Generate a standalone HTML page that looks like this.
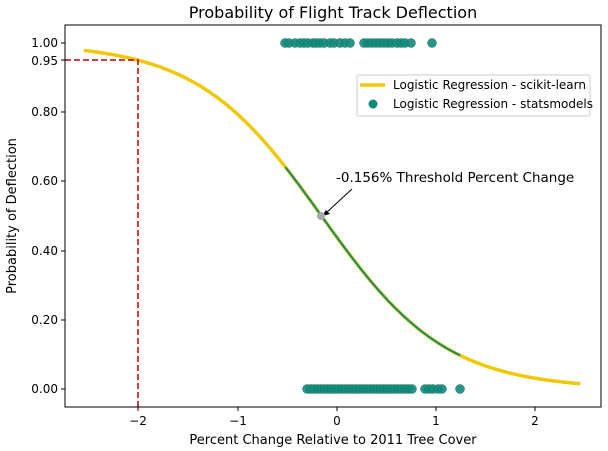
<!DOCTYPE html>
<html><head><meta charset="utf-8"><style>
body{margin:0;background:#fff}
svg{display:block;font-family:"DejaVu Sans","Liberation Sans",sans-serif}
</style></head><body>
<svg id="s" width="608" height="451" viewBox="0 0 608 451" xmlns="http://www.w3.org/2000/svg">
<rect width="608" height="451" fill="#fff"/>
<text x="333" y="18" font-size="16" text-anchor="middle">Probability of Flight Track Deflection</text>
<g id="plot"></g>
<polyline points="65,60 138,60 138,407" fill="none" stroke="#c00000" stroke-width="1.5" stroke-dasharray="6,3"/>
<rect x="65" y="25" width="536" height="382" fill="none" stroke="#000" stroke-width="1"/>
<g font-size="12" text-anchor="end">
<line x1="61" y1="43" x2="65" y2="43" stroke="#000"/><text x="58" y="47">1.00</text>
<line x1="61" y1="60" x2="65" y2="60" stroke="#000"/><text x="58" y="65">0.95</text>
<line x1="61" y1="112" x2="65" y2="112" stroke="#000"/><text x="58" y="116">0.80</text>
<line x1="61" y1="181" x2="65" y2="181" stroke="#000"/><text x="58" y="185">0.60</text>
<line x1="61" y1="251" x2="65" y2="251" stroke="#000"/><text x="58" y="255">0.40</text>
<line x1="61" y1="320" x2="65" y2="320" stroke="#000"/><text x="58" y="324">0.20</text>
<line x1="61" y1="389" x2="65" y2="389" stroke="#000"/><text x="58" y="393">0.00</text>
</g>
<g font-size="12" text-anchor="middle">
<line x1="138" y1="407" x2="138" y2="411" stroke="#000"/><text x="138" y="425">−2</text>
<line x1="238" y1="407" x2="238" y2="411" stroke="#000"/><text x="238" y="425">−1</text>
<line x1="337" y1="407" x2="337" y2="411" stroke="#000"/><text x="337" y="425">0</text>
<line x1="436" y1="407" x2="436" y2="411" stroke="#000"/><text x="436" y="425">1</text>
<line x1="535" y1="407" x2="535" y2="411" stroke="#000"/><text x="535" y="425">2</text>
</g>
<text x="333" y="444" font-size="13" text-anchor="middle">Percent Change Relative to 2011 Tree Cover</text>
<text transform="translate(16,216) rotate(-90)" font-size="13" text-anchor="middle">Probability of Deflection</text>
<text x="336" y="182" font-size="13.5">-0.156% Threshold Percent Change</text>
<line x1="352" y1="189" x2="326" y2="213" stroke="#000" stroke-width="1"/>
<polygon points="322,216 330,214 326,210" fill="#000"/>
<circle cx="321" cy="216" r="4" fill="#a9a9a9"/>
<rect x="357" y="75" width="233" height="41" fill="#fff" stroke="#ccc" rx="2"/>
<line x1="360" y1="85" x2="385" y2="85" stroke="#f0c808" stroke-width="3.5"/>
<text x="393" y="89" font-size="12">Logistic Regression - scikit-learn</text>
<circle cx="373" cy="104" r="4.5" fill="#138a7a"/>
<text x="393" y="108" font-size="12">Logistic Regression - statsmodels</text>
</svg>
<script>
(function(){
var g=document.getElementById('plot');
function X(v){return 337+99.3*v}
function Y(p){return 389-346*p}
function P(x){return 1/(1+Math.exp(1.597*(x+0.156)))}
function path(a,b){var d='';for(var x=a;x<=b+1e-9;x+=0.02){d+=(d?'L':'M')+X(x).toFixed(1)+','+Y(P(x)).toFixed(1)}return d}
var ns='http://www.w3.org/2000/svg';
function add(tag,at){var e=document.createElementNS(ns,tag);for(var k in at)e.setAttribute(k,at[k]);g.appendChild(e)}
add('path',{d:path(-2.55,2.45),fill:'none',stroke:'#f0c808','stroke-width':3.5});
add('path',{d:path(-0.52,1.25),fill:'none',stroke:'#138a7a','stroke-width':2});
var topX=[285,289,295,300,304,308,313,316,320,324,330,334,340,345,350,364,368,372,376,380,384,388,392,397,401,405,411,432];
var botX=[];for(var i=307;i<=415;i+=3.5)botX.push(i);botX.push(425,429,433,438,442,460);
topX.forEach(function(x){add('circle',{cx:x,cy:43,r:4.5,fill:'#138a7a',stroke:'#0e7565','stroke-width':0.5,'fill-opacity':0.9})});
botX.forEach(function(x){add('circle',{cx:x,cy:389,r:4.5,fill:'#138a7a',stroke:'#0e7565','stroke-width':0.5,'fill-opacity':0.9})});
})();
</script>
</body></html>
